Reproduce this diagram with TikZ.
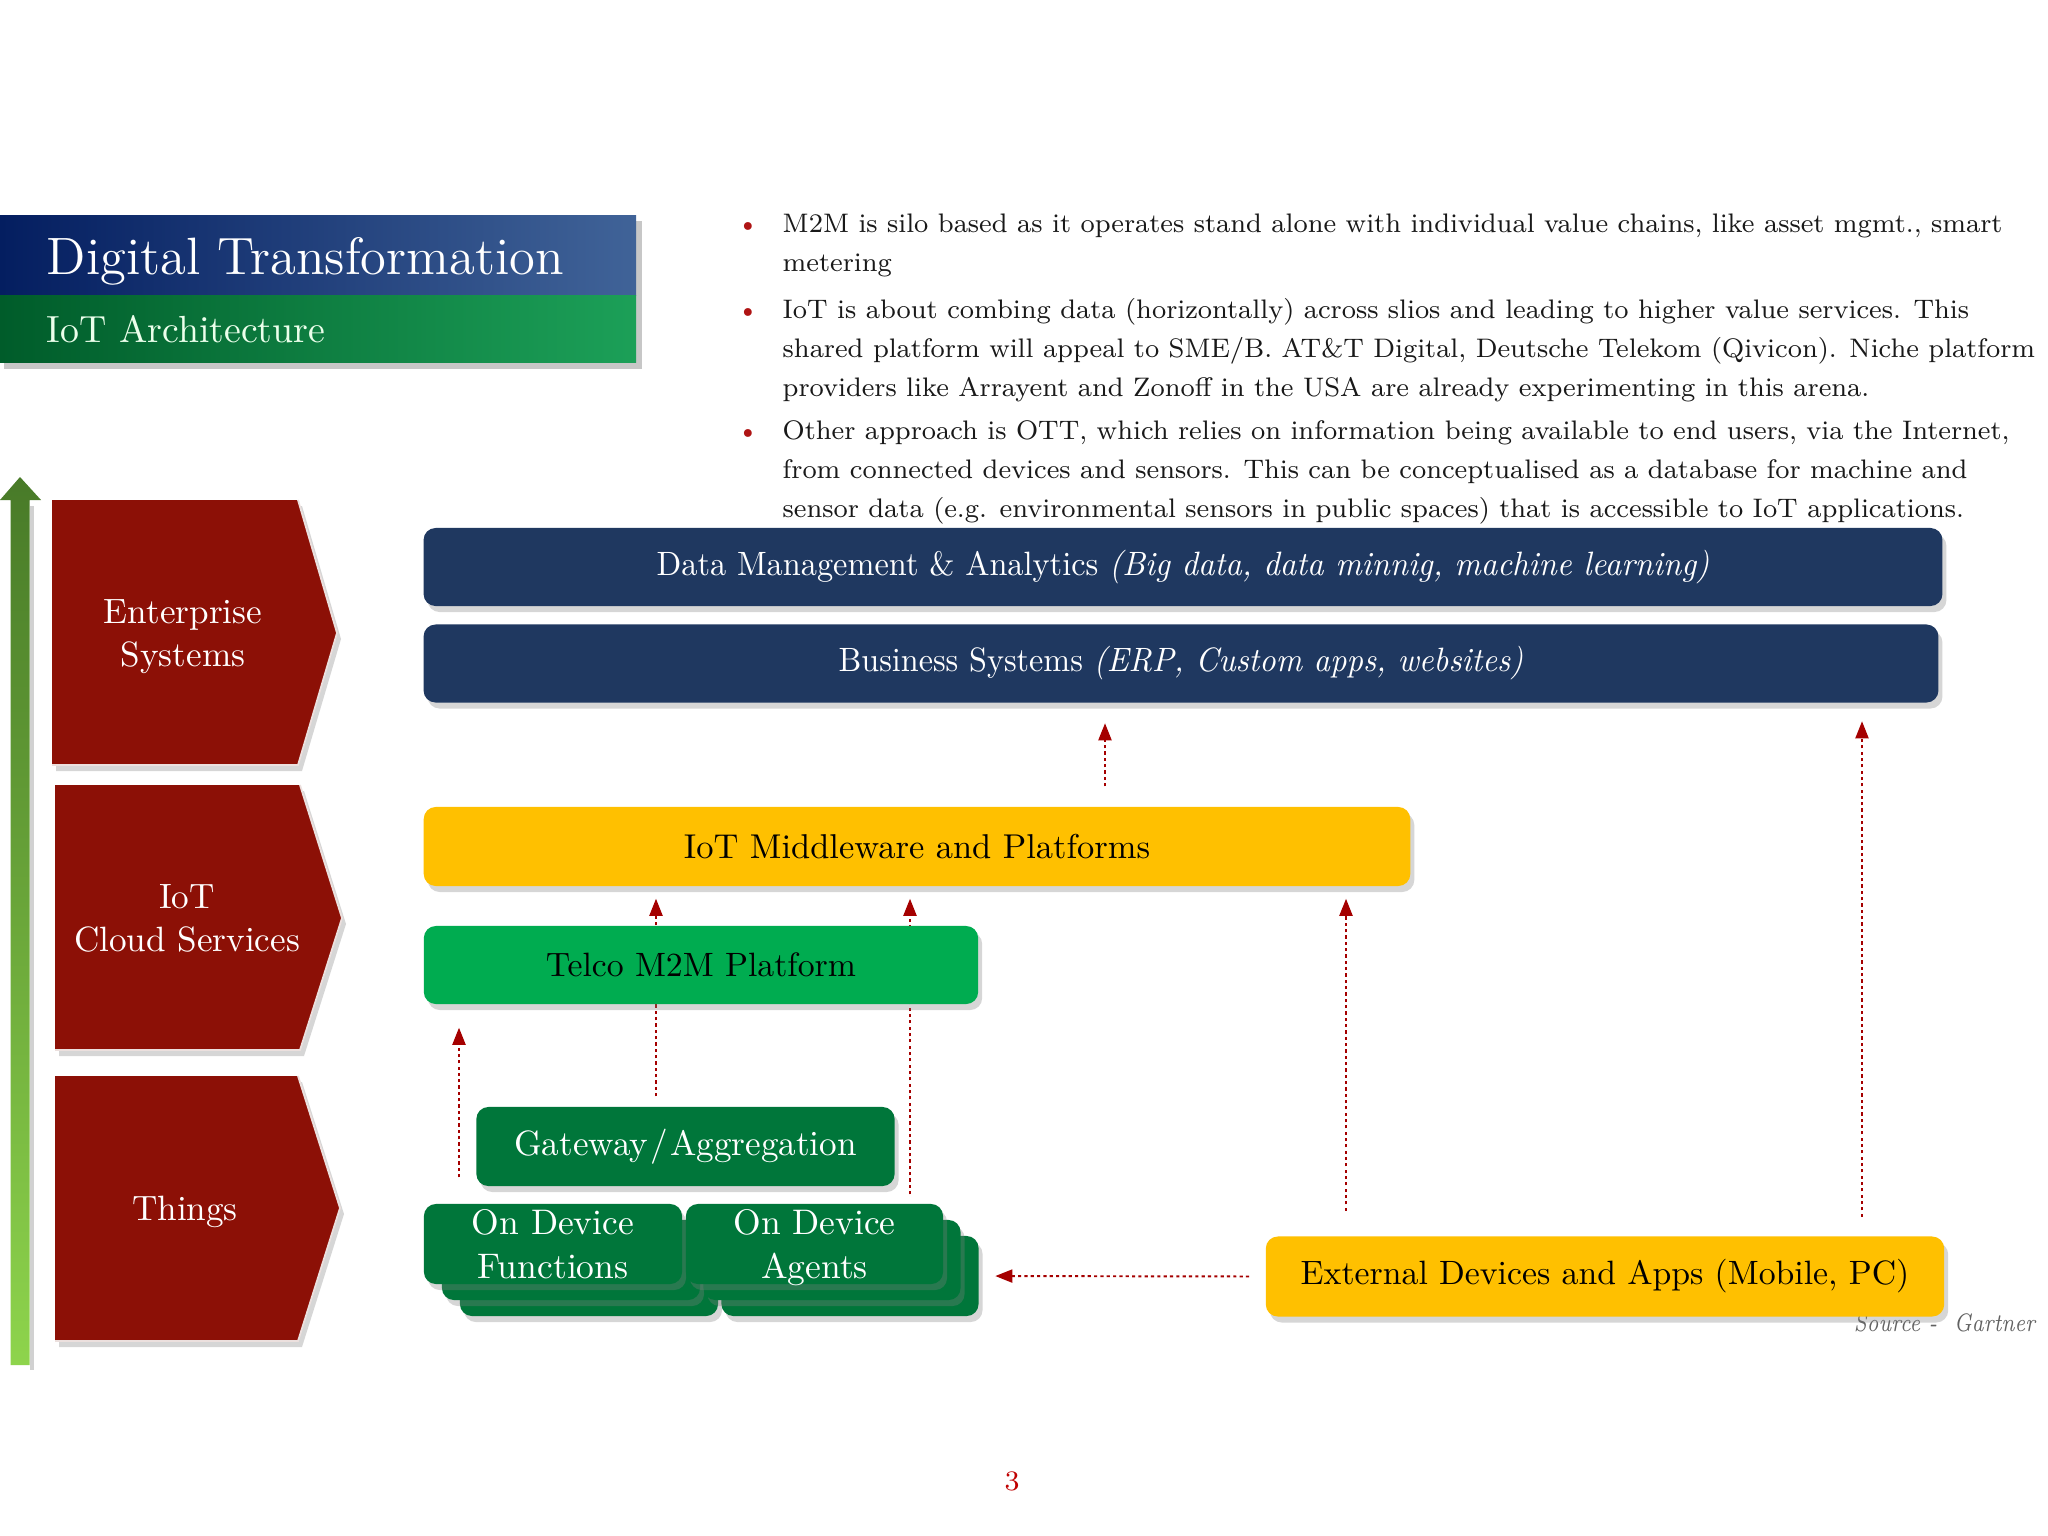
\documentclass[tikz,border=0pt]{standalone}
\usetikzlibrary{arrows.meta,shadows,calc}
\definecolor{navy}{RGB}{31,56,96}
\definecolor{gold}{RGB}{255,192,0}
\definecolor{telco}{RGB}{0,172,80}
\definecolor{dkgreen}{RGB}{0,118,58}
\definecolor{chev}{RGB}{140,16,6}
\definecolor{arrred}{RGB}{165,0,0}
\definecolor{tblueL}{RGB}{4,30,96}
\definecolor{tblueM}{RGB}{14,44,110}
\definecolor{tblueR}{RGB}{64,99,152}
\definecolor{tgrnL}{RGB}{0,92,42}
\definecolor{tgrnM}{RGB}{6,118,56}
\definecolor{tgrnR}{RGB}{28,160,88}
\definecolor{arrTop}{RGB}{72,122,40}
\definecolor{arrBot}{RGB}{142,212,76}
\definecolor{bodytext}{RGB}{25,25,25}
\definecolor{bulletred}{RGB}{175,20,20}
\definecolor{pagered}{RGB}{192,0,0}
\definecolor{chevedge}{RGB}{236,224,222}
\pgfdeclarelayer{bg}
\pgfdeclarelayer{paper}
\pgfsetlayers{paper,bg,main}
\tikzset{
  shad/.style={drop shadow={opacity=0.32, shadow xshift=0.04cm, shadow yshift=-0.06cm}},
  box/.style={rounded corners=0.12cm, inner sep=0pt, shad, align=center,
    font=\fontsize{9.6}{12.2}\selectfont},
  navybox/.style={box, fill=navy, text=white, minimum height=0.78cm},
  goldbox/.style={box, fill=gold, text=black, minimum height=0.79cm},
  telcobox/.style={box, fill=telco, text=black, minimum height=0.78cm},
  dgbox/.style={box, fill=dkgreen, text=white, minimum height=0.80cm},
  bodyline/.style={anchor=base west, inner sep=0pt, text=bodytext,
    font=\fontsize{7.62}{9}\selectfont},
  bul/.style={anchor=base, inner sep=0pt, text=bulletred,
    font=\fontsize{7.62}{9}\selectfont},
  chevtext/.style={align=center, text=white, inner sep=0pt,
    font=\fontsize{10}{12.2}\selectfont},
  chevshape/.style={fill=chev, shad},
  chevline/.style={draw=chevedge, line width=0.5pt},
  arr/.style={draw=arrred, line width=0.55pt, dash pattern=on 0.9pt off 0.9pt,
    -{Triangle[length=0.17cm,width=0.13cm]}},
}
\begin{document}
\begin{tikzpicture}[x=0.01cm,y=-0.01cm]
\useasboundingbox (0,0) rectangle (2048,1536);
\begin{pgfonlayer}{paper}
\fill[white] (0,0) rectangle (2048,1536);
\end{pgfonlayer}

% ---- title block
\fill[black,opacity=0.22] (4,221) rectangle (642,369);
\shade[left color=tblueL, middle color=tblueM, right color=tblueR] (0,215) rectangle (636,295);
\shade[left color=tgrnL, middle color=tgrnM, right color=tgrnR] (0,295) rectangle (636,362);
\node[anchor=base west, inner sep=0pt, text=white, font=\fontsize{14.95}{16}\selectfont]
  (t1) at (46,274) {Digital Transformation};
\node[anchor=base west, inner sep=0pt, text=white!92!green, font=\fontsize{10.75}{12}\selectfont]
  (t2) at (46,342) {IoT Architecture};

% ---- bullet text
\node[bul] (b1) at (748,232) {\textbullet};
\node[bul] (b2) at (748,318) {\textbullet};
\node[bul] (b3) at (748,439) {\textbullet};
\node[bodyline] (l1) at (782,232) {M2M is silo based as it operates stand alone with individual value chains, like asset mgmt., smart};
\node[bodyline] (l2) at (782,271) {metering};
\node[bodyline] (l3) at (782,318) {IoT is about combing data (horizontally) across slios and leading to higher value services. This};
\node[bodyline] (l4) at (782,357) {shared platform will appeal to SME/B. AT\&T Digital, Deutsche Telekom (Qivicon). Niche platform};
\node[bodyline] (l5) at (782,396) {providers like Arrayent and Zonoff in the USA are already experimenting in this arena.};
\node[bodyline] (l6) at (782,439) {Other approach is OTT, which relies on information being available to end users, via the Internet,};
\node[bodyline] (l7) at (782,478) {from connected devices and sensors. This can be conceptualised as a database for machine and};
\node[bodyline] (l8) at (782,517) {sensor data (e.g. environmental sensors in public spaces) that is accessible to IoT applications.};

% ---- green vertical arrow
\fill[black,opacity=0.18] (30,506) rectangle (34,1370);
\shade[top color=arrTop, bottom color=arrBot] (10.5,1365) -- (10.5,500) -- (0,500) -- (20,477) -- (41,500) -- (29.5,500) -- (29.5,1365) -- cycle;

% ---- chevrons
\fill[chevshape] (52,500) -- (298,500) -- (337,633) -- (298,765) -- (52,765) -- cycle;
\fill[chevshape] (55,785) -- (300,785) -- (342,918) -- (300,1050) -- (55,1050) -- cycle;
\fill[chevshape] (55,1076) -- (298,1076) -- (340,1208) -- (298,1341) -- (55,1341) -- cycle;
\draw[chevline] (298,500) -- (337,633) -- (298,765) -- (52,765);
\draw[chevline] (300,785) -- (342,918) -- (300,1050) -- (55,1050);
\draw[chevline] (298,1076) -- (340,1208) -- (298,1341) -- (55,1341);
\node[chevtext] (ent) at (183,637) {Enterprise\\Systems};
\node[chevtext] (cld) at (187,918) {IoT\\Cloud Services};
\node[chevtext] (thg) at (185,1212) {Things};

% ---- source note (behind external box)
\node[anchor=base east, inner sep=0pt, text=black!62, font=\fontsize{7.2}{8}\selectfont\itshape]
  (src) at (2036,1331) {\scalebox{0.78}[1]{Source -\ \ Gartner}};

% ---- boxes
\node[navybox, minimum width=15.18cm] (dm) at (1183,567)
  {\scalebox{0.958}[1]{Data Management \& Analytics \textit{(Big data, data minnig, machine learning)}}};
\node[navybox, minimum width=15.14cm] (bs) at (1181,663.5)
  {\scalebox{0.953}[1]{Business Systems \textit{(ERP, Custom apps, websites)}}};
\node[goldbox, minimum width=9.86cm, font=\fontsize{9.8}{12}\selectfont] (mw) at (917,846.5) {IoT Middleware and Platforms};
\node[telcobox, minimum width=5.54cm] (tc) at (701,965) {Telco M2M Platform};
\node[dgbox, minimum width=4.18cm, minimum height=0.79cm, font=\fontsize{10}{12}\selectfont] (gw) at (685.5,1146.5) {Gateway\kern0.6pt/\kern0.6pt Aggregation};

\node[dgbox, minimum width=2.58cm] (fn3) at (589,1276) {};
\node[dgbox, minimum width=2.57cm] (ag3) at (850,1276) {};
\node[dgbox, minimum width=2.58cm] (fn2) at (571,1260) {};
\node[dgbox, minimum width=2.57cm] (ag2) at (832,1260) {};
\node[dgbox, minimum width=2.58cm, font=\fontsize{10.1}{12.4}\selectfont] (fn) at (553,1244) {On Device\\Functions};
\node[dgbox, minimum width=2.57cm, font=\fontsize{10.1}{12.4}\selectfont] (ag) at (814.5,1244) {On Device\\\smash{Agents}};

\node[goldbox, minimum width=6.78cm, minimum height=0.80cm] (ext) at (1605,1276.5)
  {External Devices and Apps (Mobile, PC)};

% ---- page number
\node[inner sep=0pt, text=pagered, font=\fontsize{8}{9}\selectfont] (pg) at (1012,1481) {3};

% ---- connectors (behind boxes)
\coordinate (xa) at (1105,0);
\coordinate (xb) at (656,0);
\coordinate (xc) at (910,0);
\coordinate (xd) at (459,0);
\coordinate (xe) at (1346,0);
\coordinate (xf) at (1862,0);
\begin{pgfonlayer}{bg}
\draw[arr, shorten <=0.2cm, shorten >=0.2cm] (mw.north -| xa) -- (bs.south -| xa);
\draw[arr, shorten <=0.1cm, shorten >=0.12cm] (gw.north -| xb) -- (mw.south -| xb);
\draw[arr, shorten <=0.09cm, shorten >=0.12cm] (ag.north -| xc) -- (mw.south -| xc);
\draw[arr, shorten <=0.26cm, shorten >=0.23cm] (fn.north -| xd) -- (tc.south -| xd);
\draw[arr, shorten <=0.25cm, shorten >=0.12cm] (ext.north -| xe) -- (mw.south -| xe);
\draw[arr, shorten <=0.19cm, shorten >=0.18cm] (ext.north -| xf) -- (bs.south -| xf);
\draw[arr, shorten <=0.16cm, shorten >=0.16cm] (ext.west) -- (ag3.east);
\end{pgfonlayer}
\end{tikzpicture}
\end{document}
